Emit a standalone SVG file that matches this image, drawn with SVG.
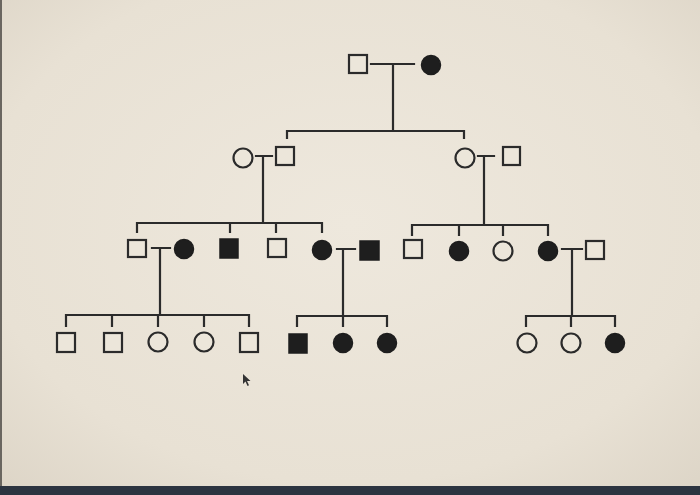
<svg xmlns="http://www.w3.org/2000/svg" width="700" height="495" viewBox="0 0 700 495">
<defs>
<radialGradient id="bg" cx="50%" cy="45%" r="75%">
<stop offset="0" stop-color="#eee8dd"/>
<stop offset="0.7" stop-color="#e8e1d4"/>
<stop offset="1" stop-color="#dcd4c6"/>
</radialGradient>
<style>
.ln{stroke:#2b2b2b;stroke-width:2.2;fill:none;stroke-linecap:square}
.open{fill:#ece6da;stroke:#2b2b2b;stroke-width:2.2}
.aff{fill:#1e1e1e;stroke:#1e1e1e;stroke-width:1.5}
</style>
</defs>
<rect x="0" y="0" width="700" height="495" fill="url(#bg)"/>
<rect x="0" y="0" width="2" height="487" fill="#6a6660"/>
<rect x="0" y="486" width="700" height="9" fill="#2c3440"/>
<g id="connectors">
<path class="ln" d="M371 64H414M393 64V131M287 131H464M287 131V138M464 131V138"/>
<path class="ln" d="M256 156H272M263 156V223M137 223H322M137 223V232M230 223V232M276 223V232M322 223V232"/>
<path class="ln" d="M478 156H494M484 156V225M412 225H548M412 225V235M459 225V235M503 225V235M548 225V235"/>
<path class="ln" d="M152 248H170M160 248V315M66 315H249M66 315V326M112 315V326M158 315V326M204 315V326M249 315V326"/>
<path class="ln" d="M337 249H355M343 249V316M297 316H387M297 316V326M343 316V326M387 316V326"/>
<path class="ln" d="M562 249H582M572 249V316M526 316H615M526 316V326M571 316V326M615 316V326"/>
</g>
<g id="I-1"><rect class="open" x="349" y="55" width="18" height="18"/></g>
<g id="I-2"><circle class="aff" cx="431" cy="65" r="9.5"/></g>
<g id="II-1"><circle class="open" cx="243" cy="158" r="9.5"/></g>
<g id="II-2"><rect class="open" x="276" y="147" width="18" height="18"/></g>
<g id="II-3"><circle class="open" cx="465" cy="158" r="9.5"/></g>
<g id="II-4"><rect class="open" x="503" y="147" width="17" height="18"/></g>
<g id="III-1"><rect class="open" x="128" y="240" width="18" height="17"/></g>
<g id="III-2"><circle class="aff" cx="184" cy="249" r="9.5"/></g>
<g id="III-3"><rect class="aff" x="220" y="239" width="18" height="19"/></g>
<g id="III-4"><rect class="open" x="268" y="239" width="18" height="18"/></g>
<g id="III-5"><circle class="aff" cx="322" cy="250" r="9.5"/></g>
<g id="III-6"><rect class="aff" x="360" y="241" width="19" height="19"/></g>
<g id="III-7"><rect class="open" x="404" y="240" width="18" height="18"/></g>
<g id="III-8"><circle class="aff" cx="459" cy="251" r="9.5"/></g>
<g id="III-9"><circle class="open" cx="503" cy="251" r="9.5"/></g>
<g id="III-10"><circle class="aff" cx="548" cy="251" r="9.5"/></g>
<g id="III-11"><rect class="open" x="586" y="241" width="18" height="18"/></g>
<g id="IV-1"><rect class="open" x="57" y="333" width="18" height="19"/></g>
<g id="IV-2"><rect class="open" x="104" y="333" width="18" height="19"/></g>
<g id="IV-3"><circle class="open" cx="158" cy="342" r="9.5"/></g>
<g id="IV-4"><circle class="open" cx="204" cy="342" r="9.5"/></g>
<g id="IV-5"><rect class="open" x="240" y="333" width="18" height="19"/></g>
<g id="IV-6"><rect class="aff" x="289" y="334" width="18" height="19"/></g>
<g id="IV-7"><circle class="aff" cx="343" cy="343" r="9.5"/></g>
<g id="IV-8"><circle class="aff" cx="387" cy="343" r="9.5"/></g>
<g id="IV-9"><circle class="open" cx="527" cy="343" r="9.5"/></g>
<g id="IV-10"><circle class="open" cx="571" cy="343" r="9.5"/></g>
<g id="IV-11"><circle class="aff" cx="615" cy="343" r="9.5"/></g>
<path d="M243 374L243 384L245.5 381.5L247.5 386L249 385.3L247 381L250.5 381Z" fill="#333"/>
</svg>
